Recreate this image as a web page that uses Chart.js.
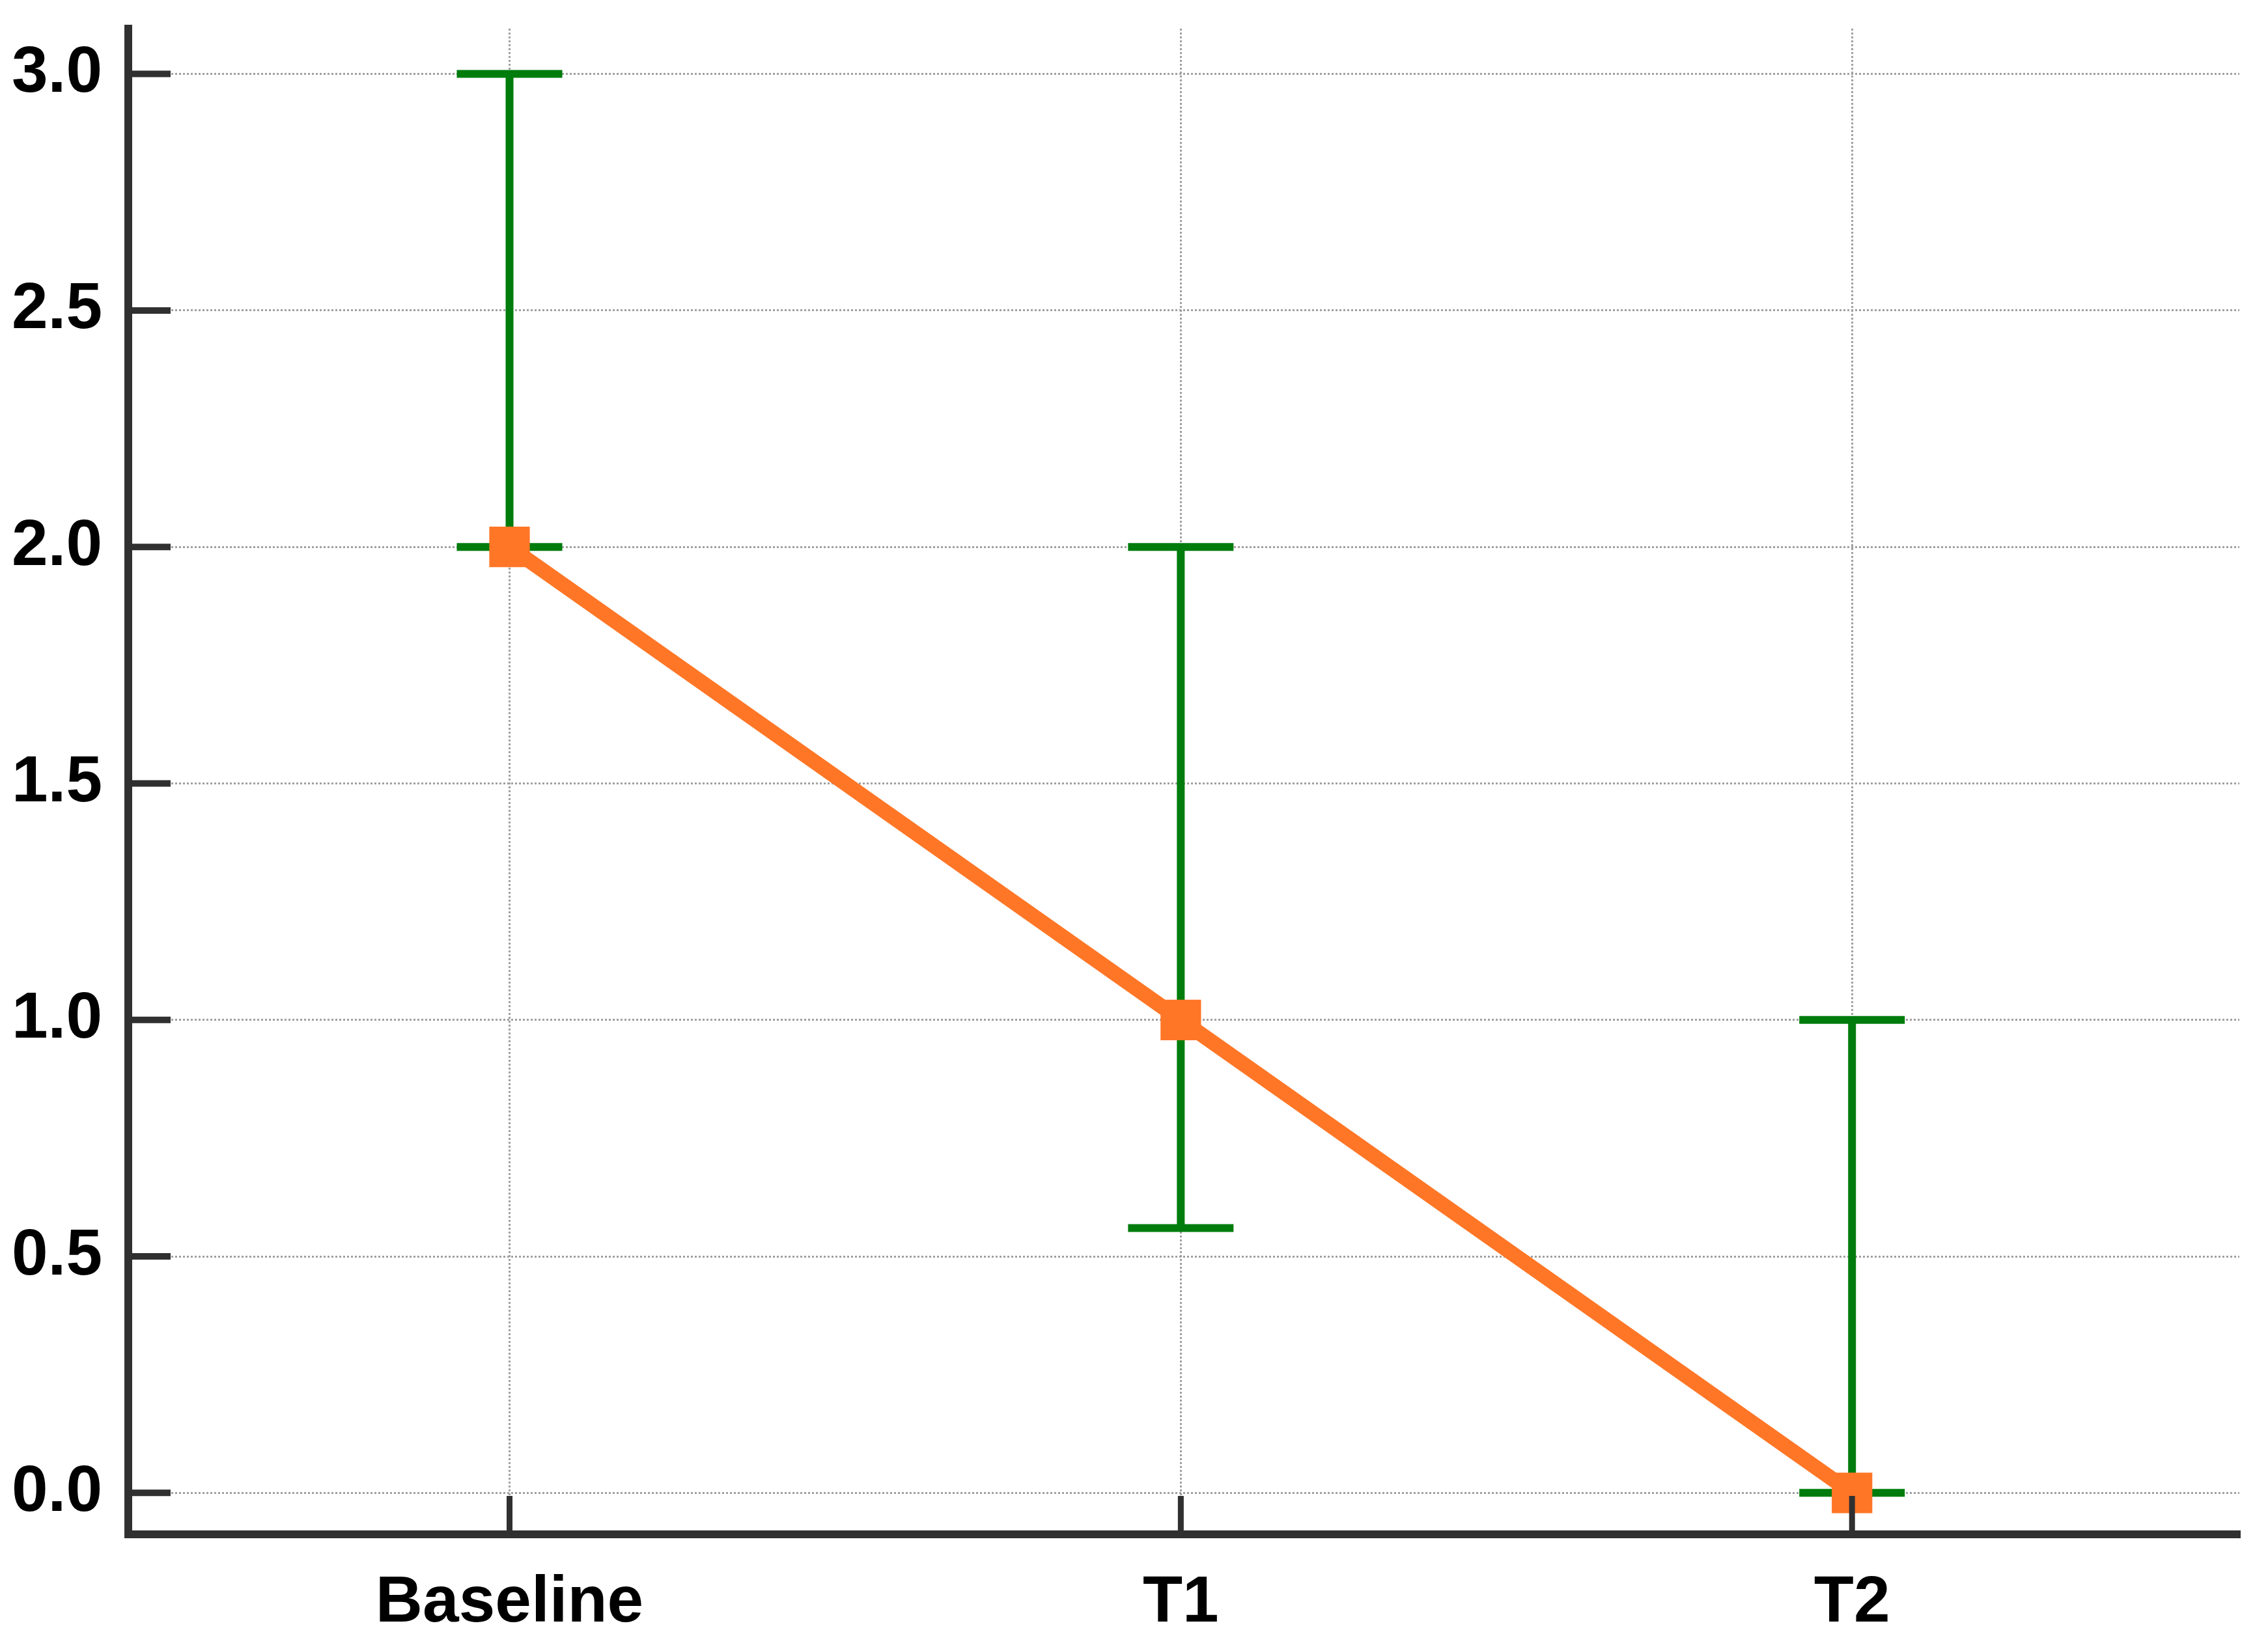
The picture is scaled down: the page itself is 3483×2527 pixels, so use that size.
<html lang="en">
<head>
    <meta charset="UTF-8">
    <title>Score over time</title>
    <script src="https://cdn.jsdelivr.net/npm/chart.js"></script>
    <style>
        html, body { margin: 0; padding: 0; background: #fff; }
        #wrap { width: 3483px; height: 2527px; }
    </style>
</head>
<body>
    <div id="wrap">
        <canvas id="chartCanvas"></canvas>
    </div>
    <script>
// values
const categories = ['Baseline', 'T1', 'T2'];
const means = [2.0, 1.0, 0.0];
const errLow = [2.0, 0.56, 0.0];
const errHigh = [3.0, 2.0, 1.0];
const yTicks = [0, 0.5, 1.0, 1.5, 2.0, 2.5, 3.0];

const axisColor = '#303030';
const gridColor = '#a0a0a0';
const lineColor = '#ff7626';
const barColor = '#007c0c';

// inward tick marks on both axes + error bars, all placed via the scales
const extras = {
    id: 'extras',
    beforeDatasetsDraw(chart) {
        const ctx = chart.ctx;
        const xs = chart.scales.x, ys = chart.scales.y;
        const cap = 81;
        ctx.save();
        ctx.strokeStyle = barColor;
        ctx.lineCap = 'butt';
        ctx.lineWidth = 12;
        means.forEach((m, i) => {
            const px = xs.getPixelForValue(i);
            const top = ys.getPixelForValue(errHigh[i]);
            const bot = ys.getPixelForValue(errLow[i]);
            ctx.beginPath();
            ctx.moveTo(px, top);
            ctx.lineTo(px, bot);
            ctx.moveTo(px - cap, top);
            ctx.lineTo(px + cap, top);
            ctx.moveTo(px - cap, bot);
            ctx.lineTo(px + cap, bot);
            ctx.stroke();
        });
        ctx.restore();
    },
    afterDraw(chart) {
        const ctx = chart.ctx;
        const xs = chart.scales.x, ys = chart.scales.y;
        const area = chart.chartArea;
        ctx.save();
        ctx.strokeStyle = axisColor;
        ctx.lineWidth = 10;
        ctx.beginPath();
        yTicks.forEach(v => {
            const py = ys.getPixelForValue(v);
            ctx.moveTo(area.left, py);
            ctx.lineTo(area.left + 65, py);
        });
        ctx.stroke();
        ctx.lineWidth = 9;
        ctx.beginPath();
        categories.forEach((c, i) => {
            const px = xs.getPixelForValue(i);
            ctx.moveTo(px, area.bottom);
            ctx.lineTo(px, area.bottom - 59);
        });
        ctx.stroke();
        ctx.restore();
    }
};

const ctx = document.getElementById('chartCanvas').getContext('2d');
window.myChart = new Chart(ctx, {
    type: 'line',
    data: {
        datasets: [{
            label: 'Mean',
            data: means.map((v, i) => ({ x: i, y: v })),
            borderColor: lineColor,
            backgroundColor: lineColor,
            borderWidth: 23,
            pointStyle: 'rect',
            pointRadius: 44,
            pointBorderWidth: 0,
            pointBackgroundColor: lineColor,
            fill: false,
            tension: 0
        }]
    },
    options: {
        responsive: true,
        maintainAspectRatio: false,
        animation: false,
        devicePixelRatio: 1,
        layout: { padding: { left: 0, right: 25, top: 31, bottom: 0 } },
        plugins: {
            legend: { display: false },
            tooltip: { enabled: false }
        },
        scales: {
            x: {
                type: 'linear',
                min: -0.568,
                max: 2.577,
                afterBuildTicks: scale => { scale.ticks = categories.map((c, i) => ({ value: i })); },
                // fixed axis band so the plot area lands where the original's does
                afterFit: scale => {
                    scale.height = 170;
                    scale.paddingLeft = 0;
                    scale.paddingRight = 0;
                },
                ticks: {
                    callback: v => categories[v],
                    font: { family: 'Liberation Sans', weight: 'bold', size: 100 },
                    color: '#000',
                    padding: 46,
                    maxRotation: 0
                },
                grid: { color: gridColor, lineWidth: 3, drawTicks: false },
                border: { display: true, color: axisColor, width: 12, dash: [3, 3] }
            },
            y: {
                type: 'linear',
                min: -0.0876,
                max: 3.0958,
                afterBuildTicks: scale => { scale.ticks = yTicks.map(v => ({ value: v })); },
                afterFit: scale => {
                    scale.width = 197;
                    scale.paddingTop = 0;
                    scale.paddingBottom = 0;
                },
                ticks: {
                    callback: v => v.toFixed(1),
                    font: { family: 'Liberation Sans', weight: 'bold', size: 100 },
                    color: '#000',
                    padding: 40
                },
                grid: { color: gridColor, lineWidth: 3, drawTicks: false },
                border: { display: true, color: axisColor, width: 12, dash: [3, 3] }
            }
        }
    },
    plugins: [extras]
});
    </script>
</body>
</html>
